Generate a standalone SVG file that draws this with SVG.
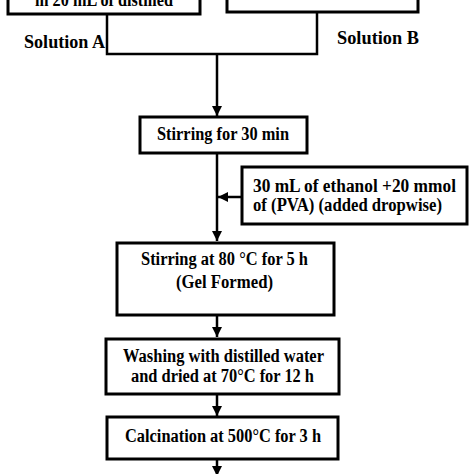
<svg xmlns="http://www.w3.org/2000/svg" width="474" height="474" viewBox="0 0 474 474">
<style>
.box{fill:#fff;stroke:#000;stroke-width:3}
.t{font-family:"Liberation Serif","Times New Roman",serif;font-weight:bold;font-size:18px;fill:#000;text-anchor:middle}
.s{text-anchor:start}
.c{fill:none;stroke:#000;stroke-width:2.5}
</style>
<defs>
<marker id="ah" viewBox="0 0 10 10" refX="10" refY="5" markerWidth="4" markerHeight="4" orient="auto" markerUnits="strokeWidth">
<path d="M0,0 L10,5 L0,10 z" fill="#000"/>
</marker>
</defs>
<rect width="474" height="474" fill="#fff"/>
<g id="connectors">
<polyline class="c" points="107,15 107,54 317,54 317,13"/>
<line class="c" x1="217" y1="54" x2="217" y2="116" marker-end="url(#ah)"/>
<line class="c" x1="217" y1="153" x2="217" y2="241" marker-end="url(#ah)"/>
<line class="c" x1="242" y1="197" x2="218" y2="197" marker-end="url(#ah)"/>
<line class="c" x1="217" y1="315" x2="217" y2="337" marker-end="url(#ah)"/>
<line class="c" x1="217" y1="394" x2="217" y2="416" marker-end="url(#ah)"/>
<line class="c" x1="217" y1="459" x2="217" y2="476" marker-end="url(#ah)"/>
</g>
<g id="solutionA">
<rect class="box" x="8" y="-40" width="192" height="54"/>
<text class="t" x="104" y="6" textLength="138" lengthAdjust="spacingAndGlyphs">in 20 mL of distilled</text>
</g>
<g id="solutionB">
<rect class="box" x="227" y="-40" width="191" height="52"/>
</g>
<g id="labelA"><text class="t" x="64.5" y="48" textLength="81" lengthAdjust="spacingAndGlyphs">Solution A</text></g>
<g id="labelB"><text class="t" x="378" y="44" textLength="82" lengthAdjust="spacingAndGlyphs">Solution B</text></g>
<g id="stir30">
<rect class="box" x="140" y="117" width="167" height="36"/>
<text class="t" x="223" y="140" textLength="132" lengthAdjust="spacingAndGlyphs">Stirring for 30 min</text>
</g>
<g id="pva">
<rect class="box" x="242" y="167" width="225" height="57"/>
<text class="t s" x="253" y="192" textLength="203" lengthAdjust="spacingAndGlyphs">30 mL of ethanol +20 mmol</text>
<text class="t s" x="253" y="211" textLength="189" lengthAdjust="spacingAndGlyphs">of (PVA) (added dropwise)</text>
</g>
<g id="gel">
<rect class="box" x="117" y="243" width="217" height="72"/>
<text class="t" x="224.5" y="265" textLength="167" lengthAdjust="spacingAndGlyphs">Stirring at 80 °C for 5 h</text>
<text class="t" x="224.5" y="288" textLength="97" lengthAdjust="spacingAndGlyphs">(Gel Formed)</text>
</g>
<g id="wash">
<rect class="box" x="106" y="339" width="233" height="55"/>
<text class="t" x="223.5" y="362" textLength="201" lengthAdjust="spacingAndGlyphs">Washing with distilled water</text>
<text class="t" x="222.5" y="382" textLength="183" lengthAdjust="spacingAndGlyphs">and dried at 70°C for 12 h</text>
</g>
<g id="calc">
<rect class="box" x="107" y="417" width="231" height="42"/>
<text class="t" x="223" y="442" textLength="196" lengthAdjust="spacingAndGlyphs">Calcination at 500°C for 3 h</text>
</g>
</svg>
